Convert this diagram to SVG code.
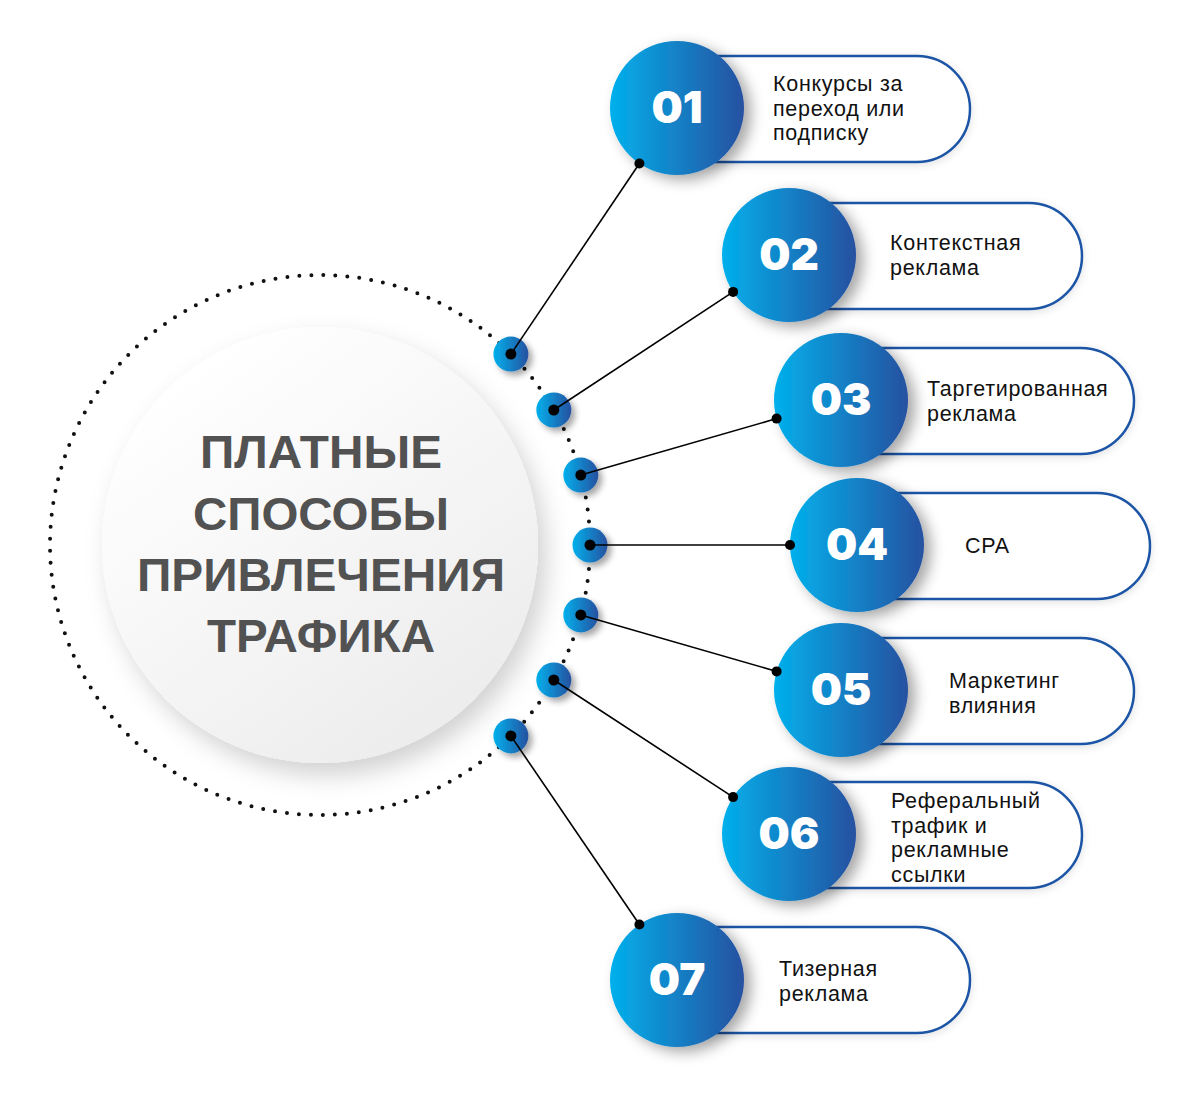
<svg xmlns="http://www.w3.org/2000/svg" width="1200" height="1094" viewBox="0 0 1200 1094">
<defs>
<linearGradient id="blue" x1="0" y1="0" x2="1" y2="0">
<stop offset="0" stop-color="#02b0ec"/>
<stop offset="1" stop-color="#2651a0"/>
</linearGradient>
<linearGradient id="gray" x1="0.2" y1="0.1" x2="0.8" y2="0.95">
<stop offset="0" stop-color="#ffffff"/>
<stop offset="1" stop-color="#ececec"/>
</linearGradient>
<filter id="sh" x="-30%" y="-30%" width="170%" height="170%">
<feDropShadow dx="7" dy="5" stdDeviation="7" flood-color="#000" flood-opacity="0.35"/>
</filter>
<filter id="shs" x="-50%" y="-50%" width="220%" height="220%">
<feDropShadow dx="4" dy="4" stdDeviation="3" flood-color="#000" flood-opacity="0.35"/>
</filter>
<filter id="shc" x="-20%" y="-20%" width="150%" height="150%">
<feDropShadow dx="8" dy="12" stdDeviation="12" flood-color="#000" flood-opacity="0.18"/>
</filter>
<filter id="shp" x="-10%" y="-30%" width="120%" height="160%">
<feDropShadow dx="0" dy="2" stdDeviation="4" flood-color="#000" flood-opacity="0.12"/>
</filter>
</defs>
<style>
.pill{fill:#fff;stroke:#1d55a6;stroke-width:2.5}
.big{fill:url(#blue);filter:url(#sh)}
.small{fill:url(#blue);filter:url(#shs)}
.num{font-family:Inter,"Noto Sans",sans-serif;font-weight:900;font-size:44px;fill:#fff;text-anchor:middle}
.lbl{font-family:"Liberation Sans",Arial,sans-serif;font-size:21.5px;letter-spacing:0.7px;fill:#111}
.ttl{font-family:"Liberation Sans",Arial,sans-serif;font-weight:bold;font-size:46px;fill:#525252;text-anchor:middle}
.ln{stroke:#000;stroke-width:1.6;fill:none}
.dt{fill:#000}
</style>
<rect width="1200" height="1094" fill="#fff"/>
<circle cx="320" cy="545" r="270" fill="none" stroke="#111" stroke-width="4" stroke-linecap="round" stroke-dasharray="0 12.03"/>
<g id="center">
<circle cx="320" cy="545" r="218" fill="url(#gray)" filter="url(#shc)"/>
<text class="ttl"><tspan x="321" y="468" textLength="242" lengthAdjust="spacingAndGlyphs">ПЛАТНЫЕ</tspan><tspan x="321" y="530" textLength="256" lengthAdjust="spacingAndGlyphs">СПОСОБЫ</tspan><tspan x="321" y="591" textLength="368" lengthAdjust="spacingAndGlyphs">ПРИВЛЕЧЕНИЯ</tspan><tspan x="321" y="652" textLength="228" lengthAdjust="spacingAndGlyphs">ТРАФИКА</tspan></text>
</g>
<g id="node1">
<rect class="pill" x="637" y="56" width="333" height="106" rx="53" filter="url(#shp)"/>
<circle class="big" cx="677" cy="108" r="67"/>
<text class="num" x="677" y="123">01</text>
<text class="lbl"><tspan x="773" y="91">Конкурсы за</tspan><tspan x="773" y="115.5">переход или</tspan><tspan x="773" y="140">подписку</tspan></text>
<circle class="small" cx="510.9" cy="354.1" r="17.5"/>
</g>
<g id="node2">
<rect class="pill" x="749" y="203" width="333" height="106" rx="53" filter="url(#shp)"/>
<circle class="big" cx="789" cy="255" r="67"/>
<text class="num" x="789" y="270">02</text>
<text class="lbl"><tspan x="890" y="250">Контекстная</tspan><tspan x="890" y="274.5">реклама</tspan></text>
<circle class="small" cx="553.8" cy="410" r="17.5"/>
</g>
<g id="node3">
<rect class="pill" x="801" y="348" width="333" height="106" rx="53" filter="url(#shp)"/>
<circle class="big" cx="841" cy="400" r="67"/>
<text class="num" x="841" y="415">03</text>
<text class="lbl"><tspan x="927" y="396">Таргетированная</tspan><tspan x="927" y="420.5">реклама</tspan></text>
<circle class="small" cx="580.8" cy="475.1" r="17.5"/>
</g>
<g id="node4">
<rect class="pill" x="817" y="493" width="333" height="106" rx="53" filter="url(#shp)"/>
<circle class="big" cx="857" cy="545" r="67"/>
<text class="num" x="857" y="560">04</text>
<text class="lbl" x="965" y="553">CPA</text>
<circle class="small" cx="590" cy="545" r="17.5"/>
</g>
<g id="node5">
<rect class="pill" x="801" y="638" width="333" height="106" rx="53" filter="url(#shp)"/>
<circle class="big" cx="841" cy="690" r="67"/>
<text class="num" x="841" y="705">05</text>
<text class="lbl"><tspan x="949" y="688">Маркетинг</tspan><tspan x="949" y="712.5">влияния</tspan></text>
<circle class="small" cx="580.8" cy="614.9" r="17.5"/>
</g>
<g id="node6">
<rect class="pill" x="749" y="782" width="333" height="106" rx="53" filter="url(#shp)"/>
<circle class="big" cx="789" cy="834" r="67"/>
<text class="num" x="789" y="849">06</text>
<text class="lbl"><tspan x="891" y="808">Реферальный</tspan><tspan x="891" y="832.5">трафик и</tspan><tspan x="891" y="857">рекламные</tspan><tspan x="891" y="881.5">ссылки</tspan></text>
<circle class="small" cx="553.8" cy="680" r="17.5"/>
</g>
<g id="node7">
<rect class="pill" x="637" y="927" width="333" height="106" rx="53" filter="url(#shp)"/>
<circle class="big" cx="677" cy="980" r="67"/>
<text class="num" x="677" y="995">07</text>
<text class="lbl"><tspan x="779" y="976">Тизерная</tspan><tspan x="779" y="1000.5">реклама</tspan></text>
<circle class="small" cx="510.9" cy="735.9" r="17.5"/>
</g>
<g id="connectors">
<line class="ln" x1="510.9" y1="354.1" x2="639.4" y2="163.5"/>
<line class="ln" x1="553.8" y1="410" x2="733.1" y2="291.9"/>
<line class="ln" x1="580.8" y1="475.1" x2="776.6" y2="418.6"/>
<line class="ln" x1="590" y1="545" x2="790" y2="545"/>
<line class="ln" x1="580.8" y1="614.9" x2="776.6" y2="671.4"/>
<line class="ln" x1="553.8" y1="680" x2="733.1" y2="797.1"/>
<line class="ln" x1="510.9" y1="735.9" x2="639.4" y2="924.5"/>
<circle class="dt" cx="510.9" cy="354.1" r="5.5"/>
<circle class="dt" cx="553.8" cy="410" r="5.5"/>
<circle class="dt" cx="580.8" cy="475.1" r="5.5"/>
<circle class="dt" cx="590" cy="545" r="5.5"/>
<circle class="dt" cx="580.8" cy="614.9" r="5.5"/>
<circle class="dt" cx="553.8" cy="680" r="5.5"/>
<circle class="dt" cx="510.9" cy="735.9" r="5.5"/>
<circle class="dt" cx="639.4" cy="163.5" r="5"/>
<circle class="dt" cx="733.1" cy="291.9" r="5"/>
<circle class="dt" cx="776.6" cy="418.6" r="5"/>
<circle class="dt" cx="790" cy="545" r="5"/>
<circle class="dt" cx="776.6" cy="671.4" r="5"/>
<circle class="dt" cx="733.1" cy="797.1" r="5"/>
<circle class="dt" cx="639.4" cy="924.5" r="5"/>
</g>
</svg>
